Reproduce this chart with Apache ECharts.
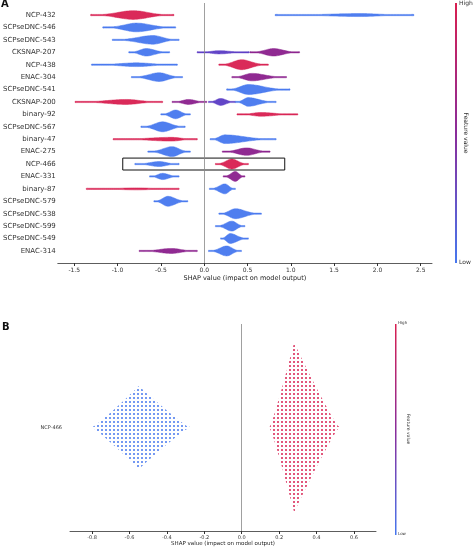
<!DOCTYPE html>
<html>
<head>
<meta charset="utf-8">
<script src="https://cdn.jsdelivr.net/npm/echarts@6/dist/echarts.min.js"></script>
<style>
  html, body { margin: 0; padding: 0; background: #fff; }
  #chart { width: 474px; height: 548px; }
</style>
</head>
<body>
<div id="chart"></div>
<script>
// 特征名（自上而下）
const features = ['NCP-432', 'SCPseDNC-546', 'SCPseDNC-543', 'CKSNAP-207', 'NCP-438', 'ENAC-304',
  'SCPseDNC-541', 'CKSNAP-200', 'binary-92', 'SCPseDNC-567', 'binary-47', 'ENAC-275', 'NCP-466',
  'ENAC-331', 'binary-87', 'SCPseDNC-579', 'SCPseDNC-538', 'SCPseDNC-599', 'SCPseDNC-549', 'ENAC-314'];

// 每个点团: [行, 最小, 最大, 峰值位置, 半高(行), 颜色序号]
const clustersA = [
  [0, -1.31, -0.35, -0.82, 0.35, 0], [0, 0.82, 2.42, 1.80, 0.12, 3],
  [1, -1.17, -0.33, -0.78, 0.35, 3],
  [2, -1.06, -0.29, -0.59, 0.35, 3],
  [3, -0.87, -0.40, -0.67, 0.30, 3], [3, -0.08, 0.52, 0.17, 0.13, 2], [3, 0.53, 1.10, 0.80, 0.30, 1],
  [4, -1.30, -0.31, -0.78, 0.15, 3], [4, 0.17, 0.74, 0.43, 0.40, 0],
  [5, -0.84, -0.25, -0.52, 0.35, 3], [5, 0.32, 0.95, 0.55, 0.30, 1],
  [6, 0.26, 0.99, 0.51, 0.40, 3],
  [7, -1.49, -0.48, -0.90, 0.20, 0], [7, -0.37, 0.03, -0.18, 0.20, 1], [7, 0.05, 0.36, 0.19, 0.28, 2], [7, 0.36, 0.83, 0.51, 0.35, 3],
  [8, -0.50, -0.16, -0.33, 0.35, 3], [8, 0.38, 1.08, 0.66, 0.15, 0],
  [9, -0.73, -0.22, -0.48, 0.40, 3],
  [10, -1.05, -0.08, -0.38, 0.15, 0], [10, 0.07, 0.83, 0.24, 0.35, 3],
  [11, -0.65, -0.16, -0.37, 0.40, 3], [11, 0.21, 0.76, 0.49, 0.30, 1],
  [12, -0.80, -0.29, -0.52, 0.20, 3], [12, 0.13, 0.51, 0.32, 0.40, 0],
  [13, -0.63, -0.29, -0.48, 0.25, 3], [13, 0.22, 0.47, 0.36, 0.40, 1],
  [14, -1.36, -0.29, -0.78, 0.08, 0], [14, 0.06, 0.36, 0.24, 0.40, 3],
  [15, -0.58, -0.19, -0.42, 0.40, 3],
  [16, 0.17, 0.66, 0.36, 0.40, 3],
  [17, 0.13, 0.47, 0.32, 0.40, 3],
  [18, 0.19, 0.51, 0.30, 0.40, 3],
  [19, -0.75, -0.08, -0.38, 0.20, 1], [19, 0.05, 0.43, 0.26, 0.40, 3]
];

// 高亮框: [xmin, xmax, 行]
const boxA = [[-0.94, 0.93, 12]];

// B 图 NCP-466: [行, 最小, 最大, 峰值位置, 半高, 颜色序号]
const clustersB = [
  [0, -0.80, -0.28, -0.55, 0.40, 3],
  [0, 0.15, 0.52, 0.28, 0.82, 0]
];

const ticksA = [-1.5, -1.0, -0.5, 0.0, 0.5, 1.0, 1.5, 2.0, 2.5];
const ticksB = [-0.8, -0.6, -0.4, -0.2, 0.0, 0.2, 0.4, 0.6];

const palette = ['#d81f50', '#8a1f8c', '#5a3bc4', '#4677ee'];

function dotPattern(color) {
  const c = document.createElement('canvas');
  c.width = 4; c.height = 4;
  const ctx = c.getContext('2d');
  ctx.fillStyle = color;
  ctx.beginPath();
  ctx.arc(2, 2, 1.0, 0, Math.PI * 2);
  ctx.fill();
  return c;
}

function blobRender(dotted) {
  return function (params, api) {
    const row = api.value(0), mn = api.value(1), mx = api.value(2), pk = api.value(3), h = api.value(4);
    const color = palette[api.value(5)];
    const top = [], bot = [];
    const n = 48;
    for (let i = 0; i <= n; i++) {
      const x = mn + (mx - mn) * i / n;
      const u = x < pk ? (pk - x) / (pk - mn) : (x - pk) / (mx - pk);
      // 点团轮廓：A 图近似高斯，B 图近似菱形
      const f = dotted ? Math.pow(Math.max(0, 1 - u), 1.1) : Math.exp(-4 * u * u);
      const hh = Math.max(h * f, dotted ? 0.01 : 0.05);
      top.push(api.coord([x, row - hh]));
      bot.unshift(api.coord([x, row + hh]));
    }
    return {
      type: 'polygon',
      shape: { points: top.concat(bot), smooth: 0.3 },
      style: dotted
        ? { fill: { image: dotPattern(color), repeat: 'repeat' }, stroke: null }
        : { fill: color, stroke: color, lineWidth: 0.5, opacity: 0.95 }
    };
  };
}

const chart = echarts.init(document.getElementById('chart'));
const axisTxt = { fontSize: 6, color: '#333', fontFamily: 'DejaVu Sans' };

chart.setOption({
  animation: false,
  grid: [
    { left: 54, right: 42, top: 3, height: 260 },
    { left: 70, right: 98, top: 324, height: 211 }
  ],
  xAxis: [
    {
      gridIndex: 0, type: 'value', min: -1.69, max: 2.63, splitLine: { show: false },
      axisLine: { onZero: false, lineStyle: { color: '#333', width: 0.8 } },
      axisTick: { customValues: ticksA, length: 3, lineStyle: { color: '#333' } },
      axisLabel: Object.assign({ customValues: ticksA, margin: 4, formatter: v => v.toFixed(1) }, axisTxt),
      name: 'SHAP value (impact on model output)', nameLocation: 'middle', nameGap: 12,
      nameTextStyle: { fontSize: 6.5, color: '#222', fontFamily: 'DejaVu Sans' }
    },
    {
      gridIndex: 1, type: 'value', min: -0.918, max: 0.718, splitLine: { show: false },
      axisLine: { onZero: false, lineStyle: { color: '#333', width: 0.8 } },
      axisTick: { customValues: ticksB, length: 3, lineStyle: { color: '#333' } },
      axisLabel: Object.assign({ customValues: ticksB, margin: 4, formatter: v => v.toFixed(1) }, axisTxt, { fontSize: 5 }),
      name: 'SHAP value (impact on model output)', nameLocation: 'middle', nameGap: 10,
      nameTextStyle: { fontSize: 5.5, color: '#222', fontFamily: 'DejaVu Sans' }
    }
  ],
  yAxis: [
    {
      gridIndex: 0, type: 'value', inverse: true, min: -0.97, max: 19.97,
      splitLine: { show: false }, axisLine: { show: false }, axisTick: { show: false },
      axisLabel: Object.assign({ customValues: features.map((f, i) => i), formatter: v => features[v], margin: 2 }, axisTxt, { fontSize: 7 })
    },
    {
      gridIndex: 1, type: 'value', min: -1, max: 1,
      splitLine: { show: false }, axisLine: { show: false }, axisTick: { show: false },
      axisLabel: Object.assign({ customValues: [0], formatter: () => 'NCP-466', margin: 8 }, axisTxt, { fontSize: 5 })
    }
  ],
  series: [
    {
      type: 'custom', xAxisIndex: 0, yAxisIndex: 0, data: clustersA, renderItem: blobRender(false),
      markLine: {
        silent: true, symbol: 'none', label: { show: false },
        lineStyle: { color: '#888', width: 0.8, type: 'solid' }, data: [{ xAxis: 0 }]
      }
    },
    {
      type: 'custom', xAxisIndex: 0, yAxisIndex: 0, data: boxA,
      renderItem: (params, api) => {
        const p0 = api.coord([api.value(0), api.value(2) - 0.48]);
        const p1 = api.coord([api.value(1), api.value(2) + 0.48]);
        return {
          type: 'rect', shape: { x: p0[0], y: p0[1], width: p1[0] - p0[0], height: p1[1] - p0[1] },
          style: { fill: null, stroke: '#111', lineWidth: 1 }
        };
      }
    },
    {
      type: 'custom', xAxisIndex: 1, yAxisIndex: 1, data: clustersB, renderItem: blobRender(true),
      markLine: {
        silent: true, symbol: 'none', label: { show: false },
        lineStyle: { color: '#888', width: 0.8, type: 'solid' }, data: [{ xAxis: 0 }]
      }
    }
  ],
  graphic: [
    { type: 'text', left: 1, top: -1, style: { text: 'A', font: 'bold 10px DejaVu Sans', fill: '#111' } },
    { type: 'text', left: 2, top: 322, style: { text: 'B', font: 'bold 10px DejaVu Sans', fill: '#111' } },
    {
      type: 'rect', shape: { x: 455, y: 3, width: 2, height: 260 },
      style: { fill: new echarts.graphic.LinearGradient(0, 0, 0, 1, [{ offset: 0, color: '#d81f50' }, { offset: 0.5, color: '#8a2c9a' }, { offset: 1, color: '#4677ee' }]) }
    },
    { type: 'text', x: 459, y: 0, style: { text: 'High', font: '6px DejaVu Sans', fill: '#333' } },
    { type: 'text', x: 459, y: 259, style: { text: 'Low', font: '6px DejaVu Sans', fill: '#333' } },
    { type: 'text', x: 466, y: 133, rotation: -Math.PI / 2, style: { text: 'Feature value', font: '6px DejaVu Sans', fill: '#333', align: 'center', verticalAlign: 'middle' } },
    {
      type: 'rect', shape: { x: 395, y: 324, width: 1.5, height: 211 },
      style: { fill: new echarts.graphic.LinearGradient(0, 0, 0, 1, [{ offset: 0, color: '#d81f50' }, { offset: 0.5, color: '#8a2c9a' }, { offset: 1, color: '#4677ee' }]) }
    },
    { type: 'text', x: 398, y: 321, style: { text: 'High', font: '4px DejaVu Sans', fill: '#333' } },
    { type: 'text', x: 398, y: 532, style: { text: 'Low', font: '4px DejaVu Sans', fill: '#333' } },
    { type: 'text', x: 408, y: 429, rotation: -Math.PI / 2, style: { text: 'Feature value', font: '4.5px DejaVu Sans', fill: '#333', align: 'center', verticalAlign: 'middle' } }
  ]
});
</script>
</body>
</html>
